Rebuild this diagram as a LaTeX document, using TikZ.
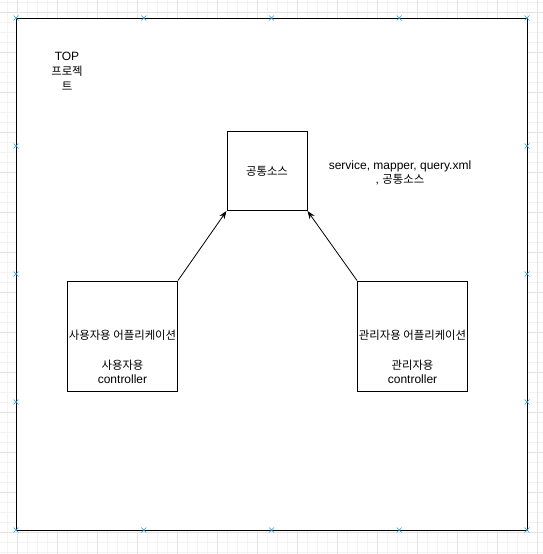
\documentclass[tikz,border=0pt]{standalone}
\usepackage{fontspec}
\setmainfont{Liberation Sans}
\newfontfamily\kr{Noto Sans CJK KR}[Scale=0.95]
\usetikzlibrary{arrows.meta}
\definecolor{gridminor}{HTML}{F3F3F3}
\definecolor{gridmajor}{HTML}{E3E3E3}
\definecolor{handle}{HTML}{2A9FDE}
\tikzset{
	txt/.style={align=center, inner sep=0pt, font=\fontsize{12}{14.7}\selectfont},
	appbox/.style={draw, line width=1pt, minimum width=110, minimum height=110, inner sep=0pt},
	arr/.style={-{Stealth[length=8pt,width=6pt]}, line width=.8pt}
}
\begin{document}
\begin{tikzpicture}[x=1pt,y=-1pt]
	\useasboundingbox (0,0) rectangle (543,554);
	\fill[white] (0,0) rectangle (543,554);
	% grid
	\foreach \x in {7,17,...,537} \draw[gridminor] (\x,0)--(\x,554);
	\foreach \y in {2,12,...,552} \draw[gridminor] (0,\y)--(543,\y);
	\foreach \x in {17,57,...,537} \draw[gridmajor] (\x,0)--(\x,554);
	\foreach \y in {12,52,...,532} \draw[gridmajor] (0,\y)--(543,\y);
	
	\node [draw, fill=white, line width=1pt, minimum width=511, minimum height=512, inner sep=0pt] (frame) at (271.5,274) {};
	\foreach \x in {16,143.75,271.5,399.25,527} {
		\draw[handle] (\x,18) +(-2.5,-2.5)--+(2.5,2.5) +(-2.5,2.5)--+(2.5,-2.5);
		\draw[handle] (\x,530) +(-2.5,-2.5)--+(2.5,2.5) +(-2.5,2.5)--+(2.5,-2.5);
	}
	\foreach \y in {146,274,402} {
		\draw[handle] (16,\y) +(-2.5,-2.5)--+(2.5,2.5) +(-2.5,2.5)--+(2.5,-2.5);
		\draw[handle] (527,\y) +(-2.5,-2.5)--+(2.5,2.5) +(-2.5,2.5)--+(2.5,-2.5);
	}
	
	\node [txt] (toplbl) at (67,71.5) {TOP\\{\kr 프로젝}\\{\kr 트}};
	
	\node [draw, line width=1pt, minimum width=80, minimum height=79, inner sep=0pt] (common) at (267,171) {};
	\node [txt] (commonlbl) at (common.center) {\kr 공통소스};
	\node [txt] (note) at (400,173) {service, mapper, query.xml\\, {\kr 공통소스}};
	
	\node [appbox] (user) at (122.5,336) {};
	\node [txt] (userlbl) at ([yshift=-21]user.center) {{\kr 사용자용 어플리케이션}\\[0pt]\strut\\{\kr 사용자용}\\controller};
	\node [appbox] (admin) at (412.5,336) {};
	\node [txt] (adminlbl) at ([yshift=-21]admin.center) {{\kr 관리자용 어플리케이션}\\[0pt]\strut\\{\kr 관리자용}\\controller};
	
	\draw [arr] (user.north east)--(common.south west);
	\draw [arr] (admin.north west)--(common.south east);
\end{tikzpicture}
\end{document}
